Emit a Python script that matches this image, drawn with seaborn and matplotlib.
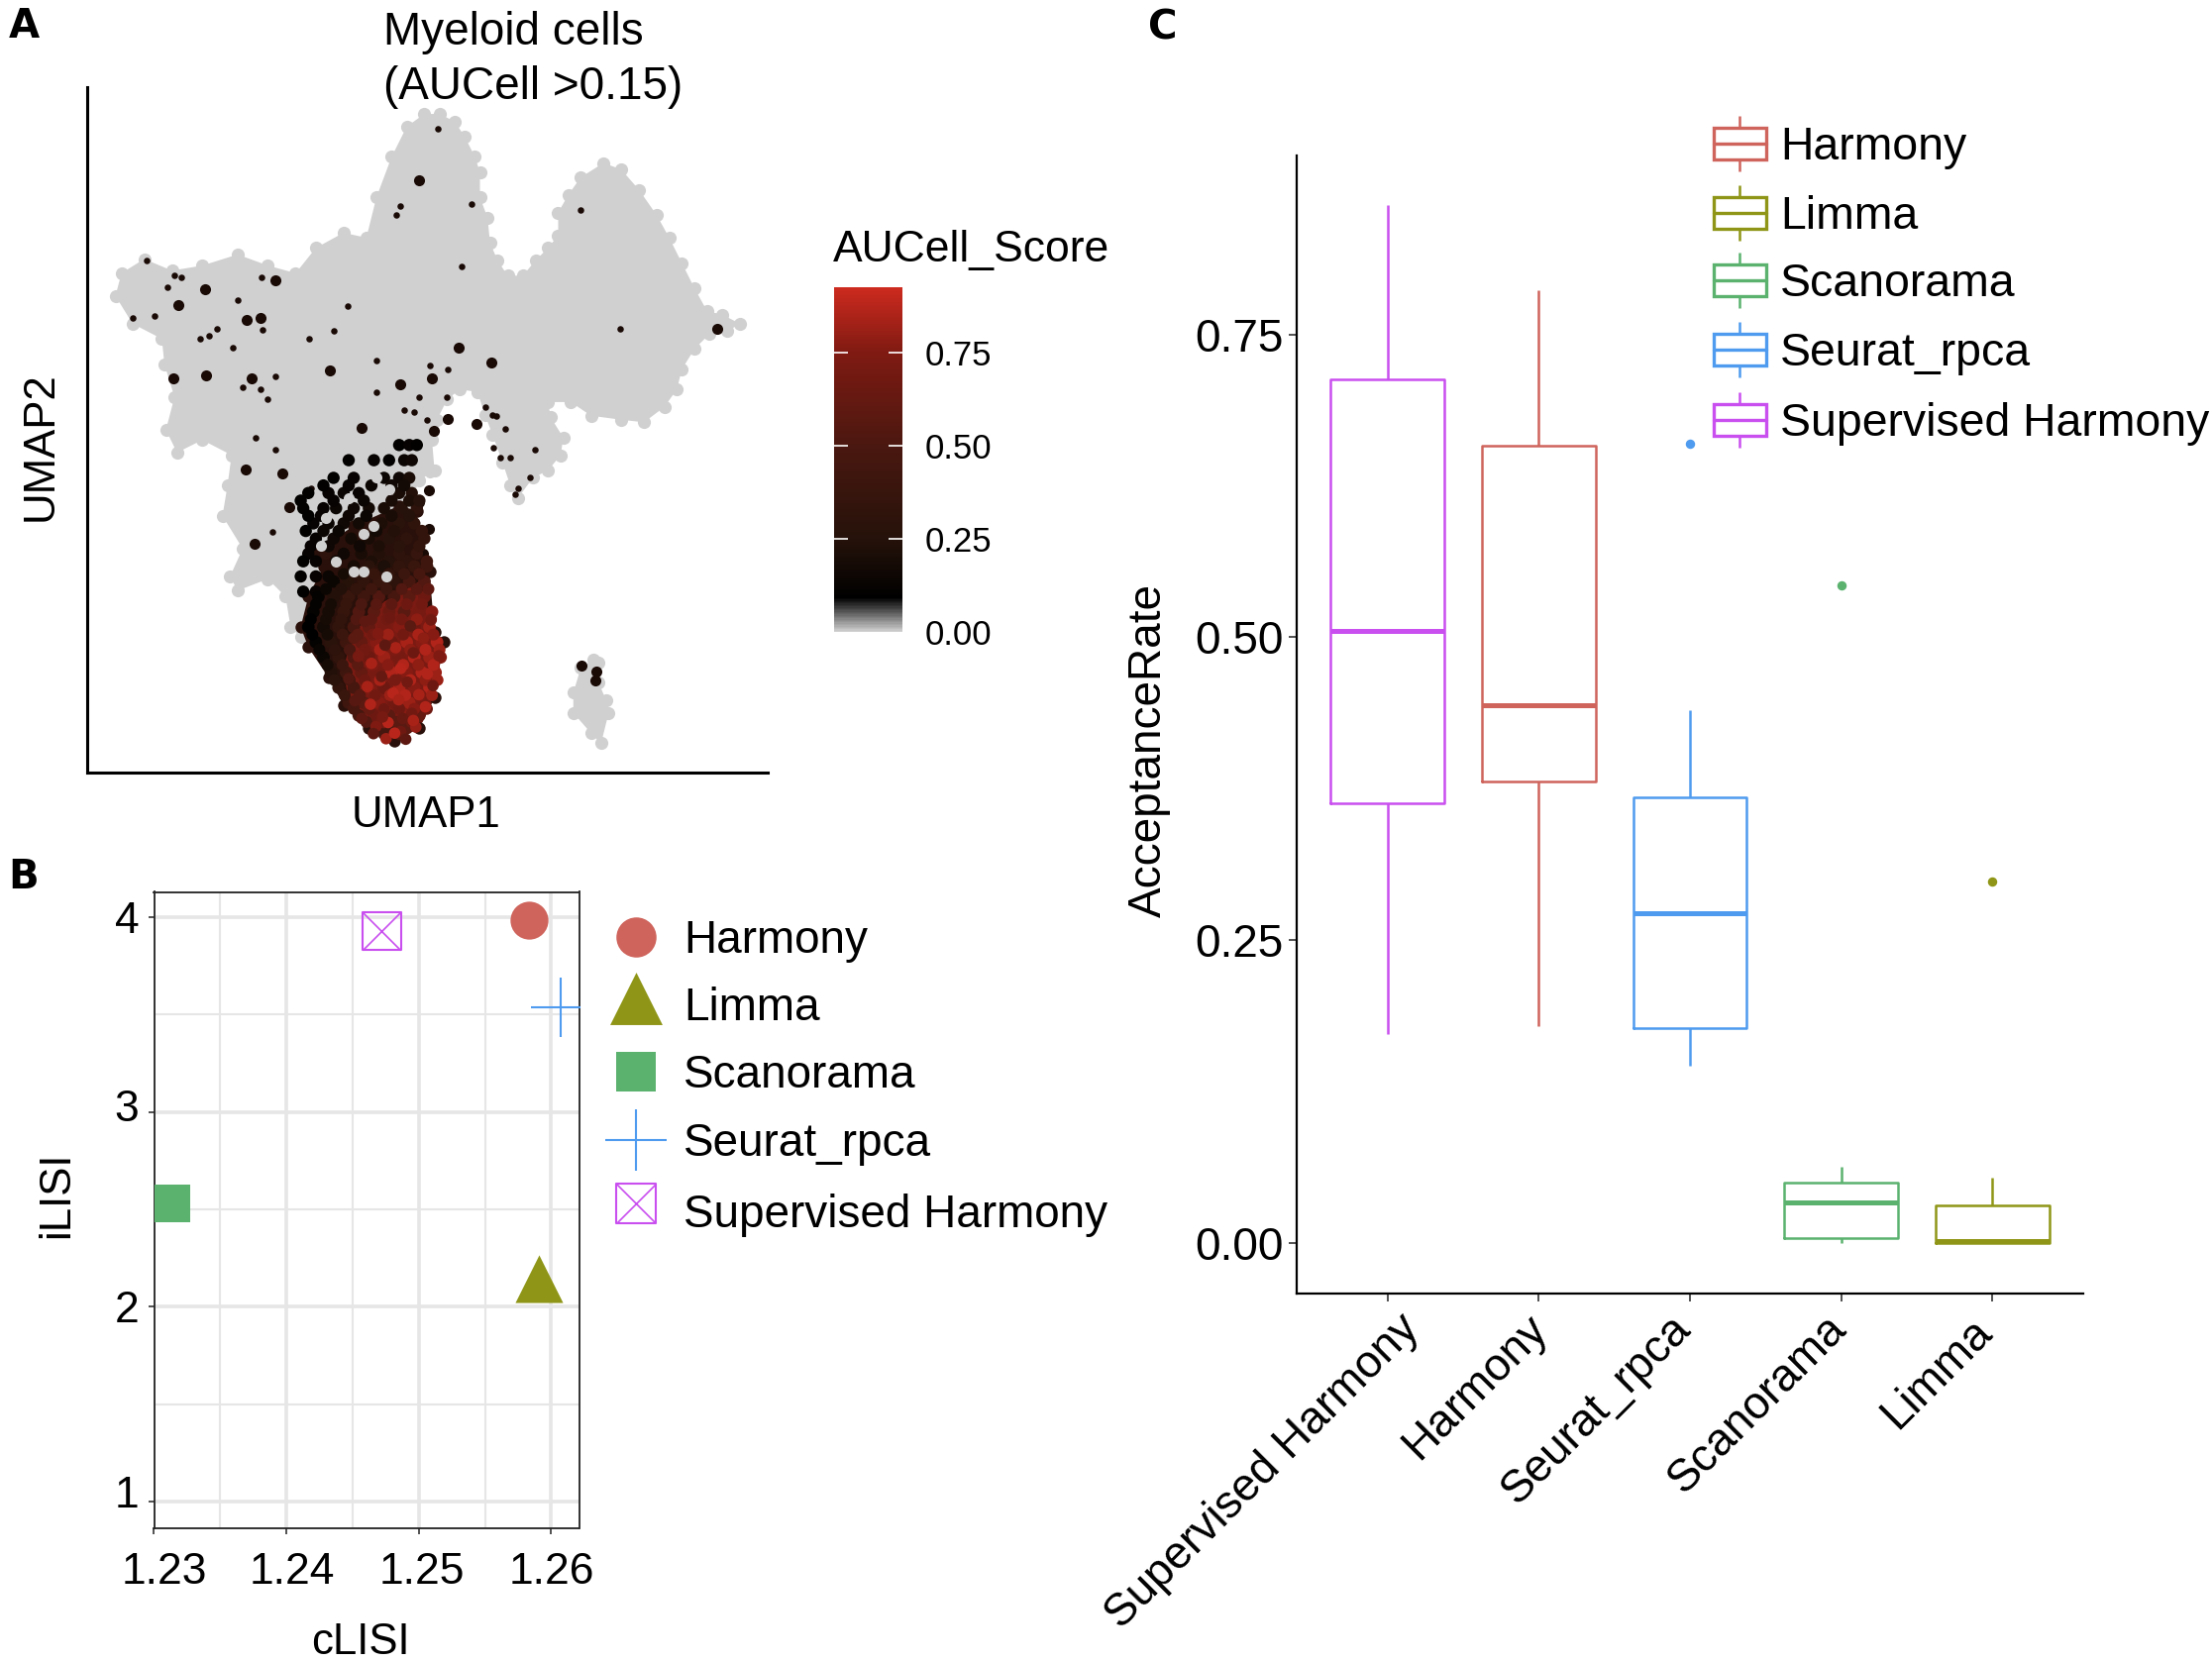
#import packages
import numpy as np
import pandas as pd
import matplotlib
matplotlib.use("Agg")
import matplotlib.pyplot as plt
import seaborn as sns
from matplotlib.cm import ScalarMappable
from matplotlib.colors import LinearSegmentedColormap, Normalize
from matplotlib.patches import Rectangle
from matplotlib.transforms import ScaledTranslation

#panel A data, UMAP positions (picture units)
main_x = [840,870,900,920,940,950,950,965,970,985,1005,1035,1060,1085,1105,1105,1125,1150,1195,1230,1265,1300,1325,1350,1375,1400,1430,1465,1440,1405,1375,1350,1340,1315,1275,1230,1170,1130,1085,1090,1115,1110,1085,1055,1025,1010,995,975,960,945,910,885,865,855,860,830,810,700,650,610,595,575,565,530,470,455,480,440,450,458,400,350,328,345,325,320,262,228,240,285,340,400,470,530,585,625,680,725,745,775,805]
main_y = [225,225,240,270,310,340,390,430,480,515,545,545,515,490,465,420,385,350,322,335,375,425,470,520,570,615,622,640,655,660,690,730,770,805,835,830,822,795,795,825,865,900,930,945,985,960,915,860,820,775,770,790,830,870,930,950,1000,1100,1180,1250,1260,1240,1180,1145,1168,1140,1085,1020,960,900,870,895,850,785,720,670,640,585,540,512,535,525,503,525,540,490,460,470,390,310,250]
island_x = [1175,1185,1185,1200,1205,1190,1170,1135,1135,1150]
island_y = [1305,1310,1350,1385,1410,1470,1450,1410,1370,1320]
under_x = [625,700,790,825,835,850,860,878,860,830,780,730,680,650,610,595,610,640]
under_y = [1090,1040,1000,1010,1110,1130,1250,1270,1380,1440,1465,1440,1395,1340,1280,1240,1180,1120]
core_x = [760,830,860,878,860,830,780,730,690,680,700]
core_y = [1190,1150,1250,1270,1380,1440,1465,1440,1395,1320,1250]

#cells with a low score, whole dots and the slivers left under grey cells
whole_x = [830,405,353,488,515,407,497,652,342,908,972,855,792,887,858,715,943,485,558,503,573,848,830,848,838,1152,1180,1178,545,1420]
whole_y = [357,572,604,633,629,742,748,732,748,687,716,748,760,828,852,847,838,928,937,1075,1002,970,993,1045,1095,1317,1328,1345,554,650]
sliver_x = [866,793,785,934,914,290,345,358,330,470,517,520,413,395,430,460,262,305,612,660,688,545,530,480,515,745,850,887,745,800,830,885,845,820,960,975,982,1000,990,977,1010,1058,1050,1025,1020,1227,1150,505,545,598,615,538]
sliver_y = [254,407,425,403,527,515,545,548,568,594,548,652,663,670,650,688,628,625,670,655,605,745,790,765,770,712,722,730,775,810,785,785,830,815,805,820,822,848,905,885,905,890,945,965,978,650,415,865,890,995,965,1052]

dense_x = [790,810,825,690,740,770,800,815,660,700,760,790,810,610,650,680,710,790,815,600,640,665,700,730,760,795,825,620,650,680,710,755,790,820,625,660,695,730,770,805,840,610,645,680,715,750,790,825,610,635,690,725,775,810,605,640,670,745,780,835,615,650,712,750,790,830,600,625,665,735,770,805,845,595,625,650,600,625,595,660,720,775,810,830,640,690,735,775,800]
dense_y = [880,880,880,910,910,910,910,910,945,945,945,945,945,975,975,975,975,975,975,1005,1005,1005,1005,1005,1005,1005,1005,1035,1035,1035,1035,1035,1035,1035,1065,1065,1065,1065,1065,1065,1065,1095,1095,1095,1095,1095,1095,1095,1020,1020,1020,1020,1020,1020,1050,1050,1050,1050,1050,1050,1080,1080,1080,1080,1080,1080,1110,1110,1110,1110,1110,1110,1110,1140,1140,1140,1170,1170,990,990,990,990,990,990,960,960,960,960,960]
dense_score = [0.1,0.12,0.1,0.1,0.12,0.1,0.14,0.15,0.1,0.12,0.14,0.16,0.2,0.1,0.12,0.14,0.12,0.2,0.24,0.1,0.12,0.14,0.16,0.18,0.2,0.26,0.3,0.12,0.14,0.16,0.18,0.22,0.28,0.32,0.12,0.15,0.18,0.2,0.26,0.3,0.34,0.12,0.3,0.16,0.2,0.24,0.3,0.36,0.1,0.12,0.15,0.14,0.2,0.25,0.1,0.14,0.14,0.18,0.24,0.34,0.12,0.15,0.16,0.22,0.28,0.34,0.1,0.12,0.15,0.22,0.26,0.3,0.42,0.1,0.12,0.14,0.1,0.12,0.1,0.12,0.14,0.2,0.22,0.26,0.1,0.12,0.14,0.16,0.18]

blob_x = [700,730,760,790,820,845,660,690,720,750,780,810,840,630,660,690,720,750,780,810,840,620,650,680,710,740,770,800,830,855,610,640,670,700,730,760,790,820,850,625,655,685,715,745,775,805,835,865,640,670,700,730,760,790,820,850,872,655,685,715,745,775,805,835,862,670,700,730,760,790,820,850,690,720,750,780,810,840,710,740,770,800,830,745,775,805]
blob_y = [1120]*6+[1150]*7+[1180]*8+[1210]*9+[1240]*9+[1270]*9+[1300]*9+[1330]*8+[1360]*7+[1390]*6+[1415]*5+[1440]*3
blob_score = [0.2,0.3,0.22,0.35,0.4,0.45,0.15,0.28,0.35,0.4,0.32,0.5,0.55,0.12,0.25,0.4,0.45,0.55,0.5,0.6,0.7,0.12,0.2,0.38,0.55,0.6,0.68,0.6,0.75,0.8,0.1,0.18,0.35,0.5,0.65,0.75,0.8,0.7,0.85,0.12,0.3,0.45,0.65,0.8,0.7,0.88,0.8,0.9,0.15,0.35,0.55,0.7,0.85,0.75,0.9,0.85,0.8,0.25,0.45,0.65,0.75,0.9,0.8,0.9,0.85,0.35,0.5,0.8,0.7,0.88,0.8,0.9,0.45,0.6,0.8,0.72,0.85,0.75,0.5,0.7,0.6,0.8,0.65,0.55,0.5,0.6]
blob2_x = [680,710,740,770,800,830,645,675,705,735,765,795,825,848,625,655,685,715,745,775,805,835,615,645,675,705,735,765,795,825,853,618,648,678,708,738,768,798,828,858,632,662,692,722,752,782,812,842,870,648,678,708,738,768,798,828,858,662,692,722,752,782,812,842,866,682,712,742,772,802,832,855,700,730,760,790,820,845,725,755,785,815,760,790]
blob2_y = [1135]*6+[1165]*8+[1195]*8+[1225]*9+[1255]*9+[1285]*9+[1315]*8+[1345]*8+[1375]*7+[1402]*6+[1428]*4+[1452]*2
blob2_score = [0.2,0.3,0.38,0.35,0.42,0.5,0.15,0.25,0.36,0.45,0.42,0.55,0.58,0.62,0.12,0.2,0.38,0.52,0.58,0.62,0.7,0.72,0.1,0.2,0.36,0.55,0.62,0.72,0.72,0.82,0.78,0.1,0.2,0.42,0.6,0.72,0.85,0.72,0.88,0.8,0.14,0.32,0.52,0.72,0.88,0.78,0.82,0.9,0.85,0.2,0.42,0.6,0.78,0.8,0.9,0.82,0.9,0.3,0.5,0.7,0.88,0.75,0.9,0.82,0.85,0.4,0.58,0.72,0.85,0.9,0.78,0.85,0.5,0.65,0.82,0.7,0.8,0.7,0.55,0.72,0.6,0.7,0.5,0.55]
top_x = [700,722,748,771,783,812,838,853,709,735,762,793,818,846,869,690,727,755,778,806,829,857,702,733,760,789,815,842,716,744,768,797,823,739,764,793,818,757,781,803]
top_y = [1262,1229,1253,1222,1281,1238,1262,1226,1298,1312,1276,1322,1291,1333,1297,1342,1358,1338,1371,1349,1374,1356,1386,1393,1402,1384,1411,1398,1421,1437,1429,1421,1438,1451,1461,1447,1425,1418,1450,1462]
top_score = [0.6,0.62,0.78,0.7,0.88,0.6,0.82,0.72,0.75,0.88,0.62,0.92,0.7,0.9,0.78,0.55,0.88,0.66,0.92,0.72,0.88,0.7,0.58,0.9,0.7,0.88,0.72,0.9,0.62,0.78,0.92,0.66,0.84,0.62,0.85,0.7,0.88,0.75,0.92,0.62]

unscored_x = [645,690,720,740,770,745,635,700,720,765,850,665]
unscored_y = [1025,985,1055,1040,968,945,1080,1130,1130,1140,935,1110]

score_ticks = [0.0, 0.25, 0.5, 0.75]
score_top = 0.925

#panel B data
methods = ["Harmony", "Limma", "Scanorama", "Seurat_rpca", "Supervised Harmony"]
clisi = [1.2583, 1.2591, 1.2313, 1.2607, 1.2472]
ilisi = [3.987, 2.146, 2.53, 3.536, 3.93]

#panel C data, nine values per method so the quartiles land where they are in the picture
box_order = ["Supervised Harmony", "Harmony", "Seurat_rpca", "Scanorama", "Limma"]
sup_rate = [0.172, 0.25, 0.363, 0.44, 0.505, 0.6, 0.713, 0.8, 0.857]
harmony_rate = [0.179, 0.3, 0.381, 0.41, 0.444, 0.55, 0.658, 0.72, 0.787]
seurat_rate = [0.146, 0.16, 0.177, 0.22, 0.272, 0.32, 0.368, 0.44, 0.66]
scanorama_rate = [0.0, 0.002, 0.0035, 0.02, 0.033, 0.04, 0.05, 0.063, 0.543]
limma_rate = [0.0, 0.0, 0.0, 0.0, 0.001, 0.01, 0.031, 0.054, 0.298]

palette = {"Harmony": "#CF645C", "Limma": "#8F9617", "Scanorama": "#5BB26F",
           "Seurat_rpca": "#4E9BEF", "Supervised Harmony": "#C94FEF"}

#set style
sns.set_style("white")
plt.rcParams["font.family"] = "Liberation Sans"
plt.rcParams["text.color"] = "black"
plt.rcParams["axes.labelcolor"] = "black"
plt.rcParams["xtick.labelcolor"] = "black"
plt.rcParams["ytick.labelcolor"] = "black"
W, H = 2233, 1678
fig = plt.figure(figsize=(W / 100, H / 100), dpi=100, facecolor="white")


def axes_px(left, top, right, bottom):
    return fig.add_axes([left / W, 1 - bottom / H, (right - left) / W, (bottom - top) / H])


def place_label(ax, axis, px):
    #axis label position in figure pixels (top of xlabel, right edge of ylabel)
    x, y = ax.transAxes.inverted().transform((px[0], H - px[1]))
    (ax.xaxis if axis == "x" else ax.yaxis).set_label_coords(x, y)


def nudge(labels, offsets):
    #the tick labels in the picture sit a little off their ticks
    for lab, (dx, dy) in zip(labels, offsets):
        lab.set_transform(lab.get_transform() + ScaledTranslation(dx / 100, dy / 100, fig.dpi_scale_trans))


#Panel A
cmap = LinearSegmentedColormap.from_list("aucell", [
    (0.0, "#D0D0D0"), (0.09 / score_top, "#000000"), (0.25 / score_top, "#25120A"),
    (0.5 / score_top, "#4A1810"), (0.75 / score_top, "#7F1A12"), (1.0, "#CD2A1E")])
ax_a = axes_px(88, 88, 775, 780)
ax_a.set_xlim(172, 1520)
ax_a.set_ylim(1528, 172)
ax_a.fill(main_x, main_y, color="#D0D0D0", lw=0)
ax_a.fill(island_x, island_y, color="#D0D0D0", lw=0)
sns.scatterplot(x=main_x + island_x, y=main_y + island_y, color="#D0D0D0", s=90, linewidth=0, ax=ax_a)
sns.scatterplot(x=sliver_x, y=sliver_y, color="#1A0A06", s=22, linewidth=0, ax=ax_a)
sns.scatterplot(x=whole_x, y=whole_y, color="#1A0A06", s=64, linewidth=0, ax=ax_a)
ax_a.fill(under_x, under_y, color="#2A100A", lw=0)
ax_a.fill(core_x, core_y, color="#7A1A12", lw=0)
sns.scatterplot(x=under_x, y=under_y, color="#2A100A", s=80, linewidth=0, ax=ax_a)
sns.scatterplot(x=dense_x, y=dense_y, hue=dense_score, palette=cmap, hue_norm=(0, score_top),
                s=80, linewidth=0, legend=False, ax=ax_a)
for xs, ys, scores, size in [(blob_x, blob_y, blob_score, 85), (blob2_x, blob2_y, blob2_score, 75), (top_x, top_y, top_score, 70)]:
    sns.scatterplot(x=xs, y=ys, hue=scores, palette=cmap, hue_norm=(0, 0.97),
                    s=size, linewidth=0, legend=False, ax=ax_a)
sns.scatterplot(x=unscored_x, y=unscored_y, color="#D0D0D0", s=64, linewidth=0, ax=ax_a)
sns.despine(ax=ax_a)
for side in ["left", "bottom"]:
    ax_a.spines[side].set_linewidth(2.2)
    ax_a.spines[side].set_color("black")
ax_a.set_xticks([])
ax_a.set_yticks([])
ax_a.set_xlabel("UMAP1", fontsize=31.5)
ax_a.set_ylabel("UMAP2", fontsize=31.5)
place_label(ax_a, "x", (430, 803))
place_label(ax_a, "y", (62, 451))

#colorbar
cax = axes_px(842, 290, 911, 638)
cbar = fig.colorbar(ScalarMappable(Normalize(0, score_top), cmap), cax=cax, ticks=score_ticks)
cax.yaxis.set_major_formatter(lambda v, pos: f"{v:.2f}")
cax.tick_params(length=0, pad=16, labelsize=25)
cbar.outline.set_visible(False)
for t in score_ticks[1:]:
    cax.hlines(t, 0, 0.2, color="white", lw=1.2)
    cax.hlines(t, 0.8, 1, color="white", lw=1.2)

#Panel B
ax_b = axes_px(155.5, 900.5, 584.5, 1543)
ax_b.set_xlim(1.23, 1.2621)
ax_b.set_ylim(0.863, 4.13)
ax_b.set_xticks([1.23, 1.24, 1.25, 1.26])
ax_b.set_xticks([1.235, 1.245, 1.255], minor=True)
ax_b.set_yticks([1, 2, 3, 4])
ax_b.set_yticks([1.5, 2.5, 3.5], minor=True)
ax_b.grid(True, which="major", color="#E6E6E6", lw=2.6)
ax_b.grid(True, which="minor", color="#E6E6E6", lw=1.5)
ax_b.set_axisbelow(True)
ax_b.tick_params(which="major", length=4, width=1.2, color="#333333", labelsize=32, pad=4, bottom=True, left=True)
ax_b.tick_params(axis="x", which="major", pad=13)
ax_b.tick_params(which="minor", length=0)
nudge(ax_b.get_xticklabels(), [(10, 0), (6, 0), (3, 0), (0, 0)])
nudge(ax_b.get_yticklabels(), [(-4, 10), (-4, 0), (-4, 7), (-4, 0)])
for s in ax_b.spines.values():
    s.set_color("#222222")
    s.set_linewidth(1.3)
lisi = pd.DataFrame({"method": methods, "cLISI": clisi, "iLISI": ilisi})
marker_map = {"Harmony": "o", "Limma": "^", "Scanorama": "s"}
sizes = {"Harmony": 760, "Limma": 1200, "Scanorama": 720}
for name, mk in marker_map.items():
    row = lisi[lisi["method"] == name]
    sns.scatterplot(data=row, x="cLISI", y="iLISI", marker=mk, s=sizes[name], color=palette[name],
                    linewidth=0, ax=ax_b, zorder=3)
row = lisi[lisi["method"] == "Seurat_rpca"]
sns.scatterplot(data=row, x="cLISI", y="iLISI", marker="+", s=1870, color=palette["Seurat_rpca"],
                linewidth=1.5, ax=ax_b, zorder=3)
row = lisi[lisi["method"] == "Supervised Harmony"]
ax_b.scatter(row["cLISI"], row["iLISI"], marker="s", s=760, facecolor="none",
             edgecolor=palette["Supervised Harmony"], linewidth=1.5, zorder=3)
ax_b.scatter(row["cLISI"], row["iLISI"], marker="x", s=760, color=palette["Supervised Harmony"],
             linewidth=1.2, zorder=3)
ax_b.set_xlabel("cLISI", fontsize=31.5)
ax_b.set_ylabel("iLISI", fontsize=31.5)
place_label(ax_b, "x", (364, 1638))
place_label(ax_b, "y", (78, 1206))

#Panel C
ax_c = axes_px(1309, 157, 2103, 1306)
rates = pd.DataFrame({"method": np.repeat(box_order, 9),
                      "AcceptanceRate": sup_rate + harmony_rate + seurat_rate + scanorama_rate + limma_rate})
sns.boxplot(data=rates, x="method", y="AcceptanceRate", hue="method", order=box_order, hue_order=box_order,
            palette=palette, fill=False, width=0.75, linewidth=1.8, showcaps=False, dodge=False,
            medianprops={"linewidth": 3.6}, flierprops={"marker": "o", "markersize": 5.8},
            legend=False, ax=ax_c)
for line in ax_c.lines:
    if line.get_marker() == "o":
        line.set_markerfacecolor(line.get_markeredgecolor())
ax_c.set_xlim(-0.6, 4.6)
ax_c.set_ylim(-0.042, 0.898)
ax_c.set_yticks([0, 0.25, 0.5, 0.75], ["0.00", "0.25", "0.50", "0.75"])
sns.despine(ax=ax_c)
for side in ["left", "bottom"]:
    ax_c.spines[side].set_linewidth(1.6)
    ax_c.spines[side].set_color("black")
ax_c.tick_params(length=6, width=1.2, labelsize=33, bottom=True, left=True, color="#333333")
for lab in ax_c.get_xticklabels():
    lab.set_rotation(45)
    lab.set_ha("right")
    lab.set_rotation_mode("anchor")
nudge(ax_c.get_xticklabels(), [(10, 0), (-14, 0), (-21, 0), (-17, 0), (-23, -3)])
ax_c.set_xlabel("")
ax_c.set_ylabel("AcceptanceRate", fontsize=33)
place_label(ax_c, "y", (1182, 758))

#overlay in figure pixels for legends, title and panel letters
over = fig.add_axes([0, 0, 1, 1], zorder=10)
over.set_xlim(0, W)
over.set_ylim(H, 0)
over.axis("off")
over.patch.set_alpha(0)

for letter, x, y in [("A", 9, 38), ("B", 8, 897), ("C", 1159, 40)]:
    over.text(x, y, letter, fontsize=29, fontweight="bold", family="DejaVu Sans", va="baseline")
over.text(387, 45, "Myeloid cells", fontsize=33, va="baseline")
over.text(387, 100, "(AUCell >0.15)", fontsize=33, va="baseline")
over.text(841, 264, "AUCell_Score", fontsize=32, va="baseline")

#legend B
leg_b_y = [946, 1014, 1082, 1151, 1223]
key_b_y = [946, 1008, 1082, 1151, 1215]
for name, ty, ky in zip(methods, leg_b_y, key_b_y):
    over.text(690, ty + 16, name, fontsize=33, va="baseline")
    c = palette[name]
    if name == "Harmony":
        over.scatter(642, ky, marker="o", s=850, color=c, linewidth=0)
    elif name == "Limma":
        over.scatter(642, ky, marker="^", s=1450, color=c, linewidth=0)
    elif name == "Scanorama":
        over.scatter(642, ky, marker="s", s=800, color=c, linewidth=0)
    elif name == "Seurat_rpca":
        over.scatter(642, ky, marker="+", s=2000, color=c, linewidth=1.5)
    else:
        over.scatter(642, ky, marker="s", s=800, facecolor="none", edgecolor=c, linewidth=1.5)
        over.scatter(642, ky, marker="x", s=800, color=c, linewidth=1.2)

#legend C
leg_c_y = [145, 215, 283, 353, 424]
for name, y in zip(methods, leg_c_y):
    c = palette[name]
    over.text(1797, y + 16, name, fontsize=33.4, va="baseline")
    over.plot([1756, 1756], [y - 28, y + 28], color=c, lw=1.8, solid_capstyle="butt")
    over.add_patch(Rectangle((1730, y - 16), 53, 32, facecolor="white", edgecolor=c, lw=2.4, zorder=3))
    over.plot([1730, 1783], [y, y], color=c, lw=2.4, zorder=4)

fig.savefig("out.png", dpi=100, facecolor="white")
